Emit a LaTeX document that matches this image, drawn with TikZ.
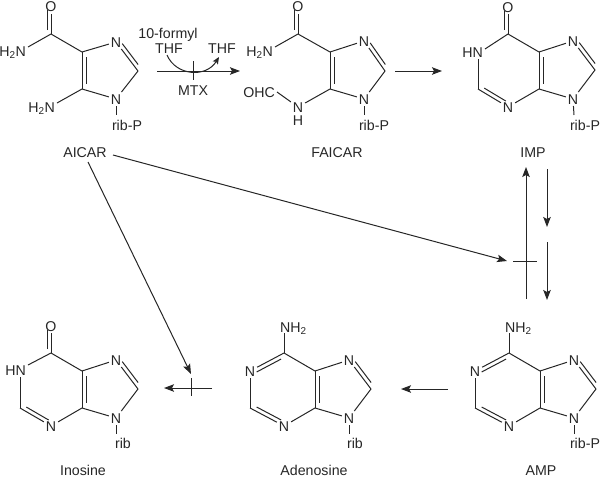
\documentclass[tikz,border=0pt]{standalone}
\usepackage{fontspec}
\setmainfont{Liberation Sans}
\usetikzlibrary{arrows.meta,calc}
\tikzset{
  atom/.style={inner sep=0pt,outer sep=2pt,text height=10pt,text depth=0pt,font=\fontsize{14.2}{16}\selectfont,text=black!85},
  lbl/.style={atom,outer sep=0pt},
  bond/.style={draw=black!85,line width=1pt},
  rxn/.style={draw=black!85,line width=1pt,-{Stealth[length=10pt,width=7.5pt,inset=2pt]}},
  tick/.style={draw=black!85,line width=1pt},
}
% main bond plus an inner line on the given side (angle 90 or -90)
\newcommand{\dblbond}[3]{%
  \draw[bond] (#1) -- (#2);
  \draw[bond] ($(#1)!0.14!(#2)!4pt!#3:(#2)$) -- ($(#2)!0.14!(#1)!4pt!-#3:(#1)$);
}
% fused ring system anchored at C6; #1 prefix, #2 x, #3 y, #4 x offset of atom 1
\newcommand{\ringnodes}[4]{%
  \coordinate (#1c6) at (#2,#3);
  \coordinate (#1c5) at (#2+31,#3+18);
  \coordinate (#1c4) at (#2+31,#3+55);
  \node[atom] (#1n7) at (#2+65,#3+7) {N};
  \coordinate (#1c8) at (#2+87,#3+36);
  \node[atom] (#1n9) at (#2+65,#3+65) {N};
  \node[atom] (#1n3) at (#2,#3+73) {N};
  \coordinate (#1c2) at (#2-#4,#3+55);
  \draw[bond] (#1c6) -- (#1c5);
  \dblbond{#1c4}{#1c5}{-90}
  \draw[bond] (#1c5) -- (#1n7);
  \dblbond{#1c8}{#1n7}{-90}
  \draw[bond] (#1c8) -- (#1n9);
  \draw[bond] (#1n9) -- (#1c4);
  \draw[bond] (#1c4) -- (#1n3);
}
\begin{document}
\begin{tikzpicture}[x=1pt,y=-1pt]
\useasboundingbox (0,0) rectangle (600,477);

% AICAR
\coordinate (ac) at (51,34);
\coordinate (ac4) at (82,52);
\coordinate (ac5) at (82,89);
\coordinate (ac2) at (138,71);
\node[atom] (ao) at (51,6.5) {O};
\node[atom,anchor=east] (ah1) at (28,51) {H\textsubscript{2}N};
\node[atom,anchor=east] (ah2) at (57,107) {H\textsubscript{2}N};
\node[atom] (an3) at (116,42) {N};
\node[atom] (an1) at (116,99) {N};
\node[lbl] (ar) at (127,125) {rib-P};
\coordinate (arb) at (116,115);
\node[lbl] (aicar) at (85,152) {AICAR};
\dblbond{ac}{ao}{90}
\draw[bond] (ac) -- ($(ah1.east)+(0,-4)$);
\draw[bond] (ac) -- (ac4);
\dblbond{ac5}{ac4}{-90}
\draw[bond] (ac4) -- (an3);
\dblbond{ac2}{an3}{-90}
\draw[bond] (ac2) -- (an1);
\draw[bond] (an1) -- (ac5);
\draw[bond] (ac5) -- ($(ah2.east)+(0,-4)$);
\draw[bond] (an1) -- (arb);

% FAICAR
\coordinate (fc) at (298,34);
\coordinate (fc4) at (330,52);
\coordinate (fc5) at (330,89);
\coordinate (fc2) at (385,71);
\node[atom] (fo) at (298,6.5) {O};
\node[atom,anchor=east] (fh1) at (275,51) {H\textsubscript{2}N};
\node[atom] (fn) at (298,107) {N};
\node[atom] (fh) at (298,120) {H};
\node[atom,anchor=east] (fohc) at (277,92) {OHC};
\node[atom] (fn3) at (364,41) {N};
\node[atom] (fn1) at (364,99) {N};
\node[lbl] (fr) at (374,125) {rib-P};
\coordinate (frb) at (364,115);
\node[lbl] (faicar) at (337,152) {FAICAR};
\dblbond{fc}{fo}{90}
\draw[bond] (fc) -- ($(fh1.east)+(0,-4)$);
\draw[bond] (fc) -- (fc4);
\dblbond{fc5}{fc4}{-90}
\draw[bond] (fc4) -- (fn3);
\dblbond{fc2}{fn3}{-90}
\draw[bond] (fc2) -- (fn1);
\draw[bond] (fn1) -- (fc5);
\draw[bond] (fc5) -- (fn);
\draw[bond] (fn) -- (fohc.east);
\draw[bond] (fn1) -- (frb);

% IMP
\ringnodes{i}{508}{34}{30}
\node[atom] (io) at (508,7) {O};
\node[atom,anchor=east] (ihn) at (485,52) {HN};
\node[lbl] (ir) at (585,125) {rib-P};
\coordinate (irb) at (574,115);
\node[lbl] (imp) at (533,152) {IMP};
\coordinate (ihnb) at (478,59);
\dblbond{ic6}{io}{90}
\draw[bond] (ic6) -- ($(ihn.east)+(0,-3)$);
\draw[bond] (ic2) -- (ihnb);
\dblbond{ic2}{in3}{90}
\draw[bond] (in9) -- (irb);

% Inosine
\ringnodes{o}{51}{353}{31}
\node[atom] (oo) at (51,326) {O};
\node[atom,anchor=east] (ohn) at (28,370) {HN};
\node[lbl] (or) at (123,443) {rib};
\coordinate (orb) at (116,434);
\node[lbl] (inosine) at (83,470.5) {Inosine};
\coordinate (ohnb) at (20,377);
\dblbond{oc6}{oo}{90}
\draw[bond] (oc6) -- ($(ohn.east)+(0,-5)$);
\draw[bond] (oc2) -- (ohnb);
\dblbond{oc2}{on3}{90}
\draw[bond] (on9) -- (orb);

% Adenosine
\ringnodes{d}{284}{353}{34}
\node[atom,anchor=west] (dnh) at (278,327) {NH\textsubscript{2}};
\node[atom] (dn1) at (250,371) {N};
\node[lbl] (dr) at (355,443) {rib};
\coordinate (drb) at (349,434);
\node[lbl] (adenosine) at (314,470.5) {Adenosine};
\coordinate (dnhb) at (284,333);
\draw[bond] (dc6) -- (dnhb);
\dblbond{dn1}{dc6}{-90}
\draw[bond] (dn1) -- (dc2);
\dblbond{dc2}{dn3}{90}
\draw[bond] (dn9) -- (drb);

% AMP
\ringnodes{m}{509}{353}{34}
\node[atom,anchor=west] (mnh) at (503,327) {NH\textsubscript{2}};
\node[atom] (mn1) at (475,371) {N};
\node[lbl] (mr) at (585,443) {rib-P};
\coordinate (mrb) at (574,434);
\node[lbl] (amp) at (541,470.5) {AMP};
\coordinate (mnhb) at (509,333);
\draw[bond] (mc6) -- (mnhb);
\dblbond{mn1}{mc6}{-90}
\draw[bond] (mn1) -- (mc2);
\dblbond{mc2}{mn3}{90}
\draw[bond] (mn9) -- (mrb);

% reaction 1
\node[lbl] (formyl) at (168,33) {10-formyl};
\node[lbl] (thf1) at (169,48) {THF};
\node[lbl] (thf2) at (222,48) {THF};
\node[lbl] (mtx) at (193,90) {MTX};
\coordinate (r1a) at (157,71);
\coordinate (r1b) at (240,71);
\draw[rxn] (r1a) -- (r1b);
\coordinate (t1a) at (193,61);
\coordinate (t1b) at (193,80);
\draw[tick] (t1a) -- (t1b);
\coordinate (ca) at (167,55);
\coordinate (cb) at (219,57);
\draw[draw=black!85,line width=1pt,-{Stealth[length=7pt,width=6pt,inset=1.5pt]}] (ca) .. controls (176,76) and (206,78) .. (cb);

% FAICAR to IMP
\coordinate (r2a) at (395,71);
\coordinate (r2b) at (442,71);
\draw[rxn] (r2a) -- (r2b);

% IMP / AMP
\coordinate (u1) at (526,299);
\coordinate (u2) at (526,167);
\draw[rxn] (u1) -- (u2);
\coordinate (t2a) at (513,261);
\coordinate (t2b) at (537,261);
\draw[tick] (t2a) -- (t2b);
\coordinate (d1) at (547,169);
\coordinate (d2) at (547,227);
\draw[rxn] (d1) -- (d2);
\coordinate (d3) at (547,242);
\coordinate (d4) at (547,300);
\draw[rxn] (d3) -- (d4);

% AICAR inhibitions
\coordinate (x1) at (113,155);
\coordinate (x2) at (507,261);
\draw[rxn] (x1) -- (x2);
\coordinate (x3) at (88,162);
\coordinate (x4) at (191,374);
\draw[rxn] (x3) -- (x4);

% to Inosine
\coordinate (r3a) at (212,388);
\coordinate (r3b) at (164,388);
\draw[rxn] (r3a) -- (r3b);
\coordinate (t3a) at (191,378);
\coordinate (t3b) at (191,396);
\draw[tick] (t3a) -- (t3b);

% AMP to Adenosine
\coordinate (r4a) at (448,389);
\coordinate (r4b) at (401,389);
\draw[rxn] (r4a) -- (r4b);
\end{tikzpicture}
\end{document}
